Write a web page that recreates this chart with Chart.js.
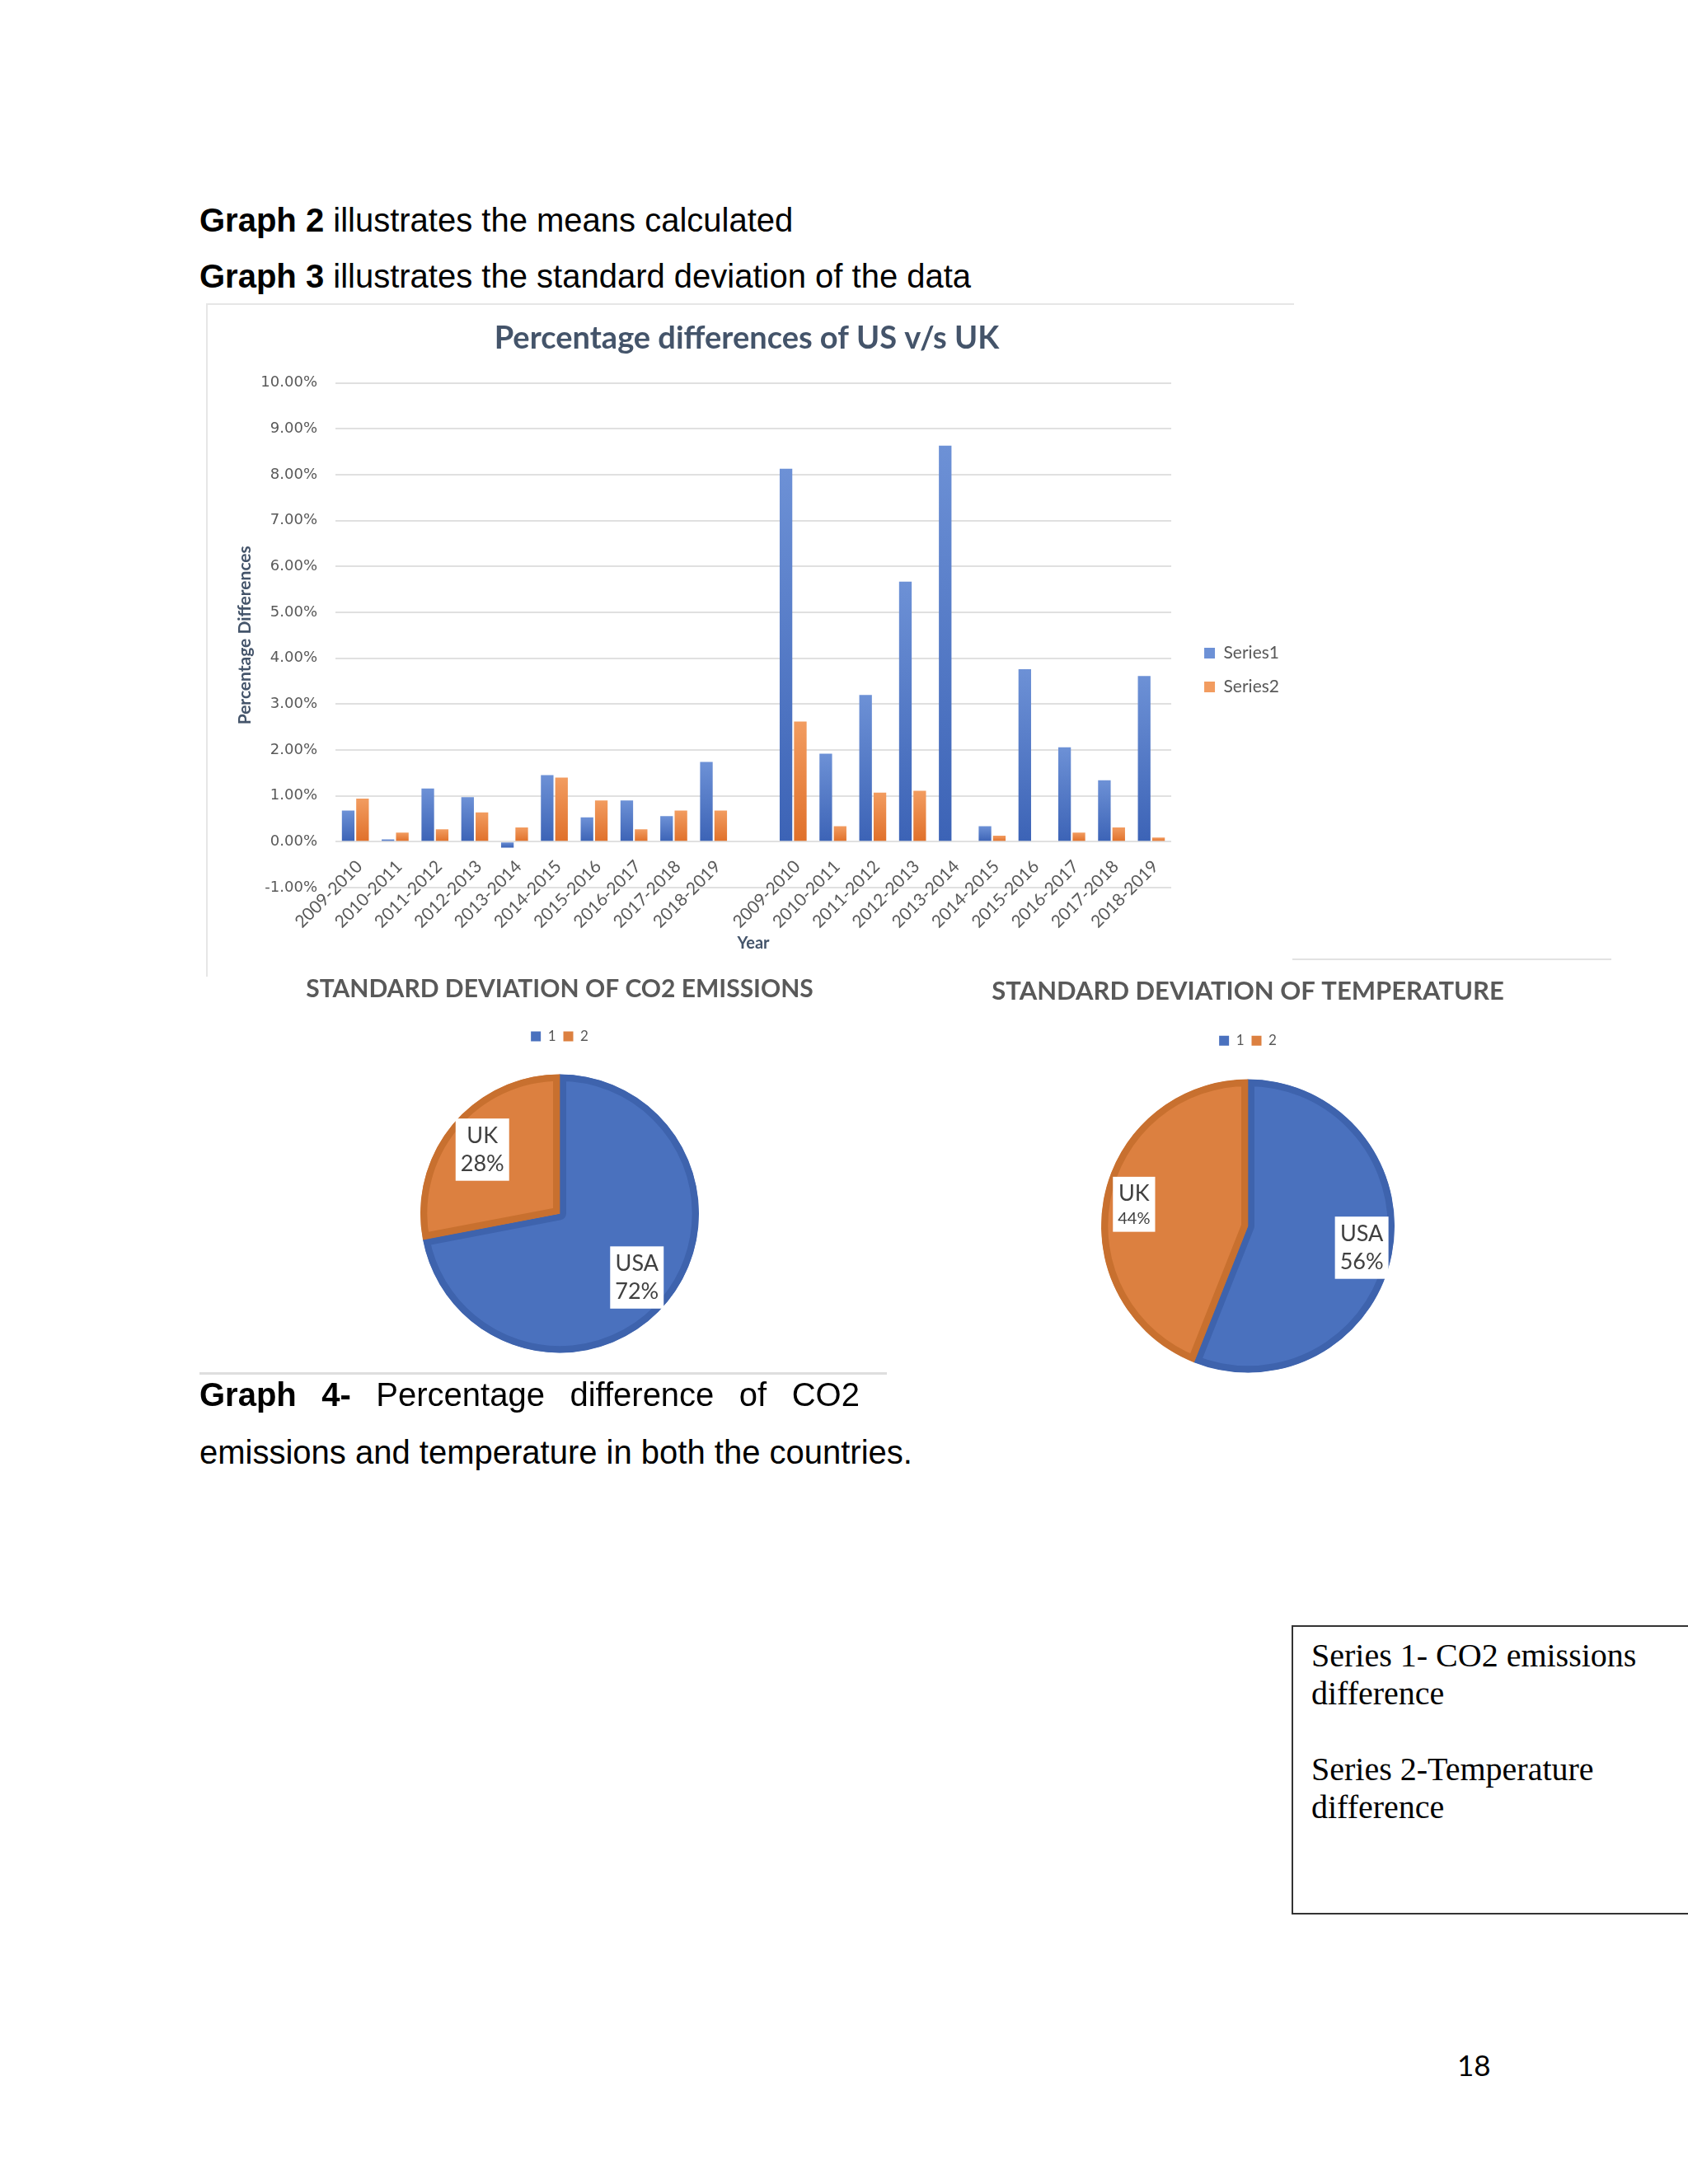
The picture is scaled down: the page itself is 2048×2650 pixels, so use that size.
<!DOCTYPE html>
<html>
<head>
<meta charset="utf-8">
<script src="https://cdn.jsdelivr.net/npm/chart.js@4.4.1/dist/chart.umd.min.js"></script>
<style>
  body { margin: 0; background: #fff; }
  #page { position: relative; width: 2048px; height: 2650px; overflow: hidden; background: #fff;
          font-family: "Liberation Sans", Arial, sans-serif; color: #000; }
  .txt { position: absolute; font-size: 40px; line-height: 48px; white-space: nowrap; }
  canvas { position: absolute; }
  .line { position: absolute; height: 0; }
  #note { position: absolute; left: 1567px; top: 1972px; width: 560px; height: 351px;
          border: 2px solid #333; font-family: "Liberation Serif", "Times New Roman", serif;
          font-size: 40px; line-height: 46px; padding: 12px 0 0 22px; box-sizing: border-box; }
  #pageNo { position: absolute; left: 1768px; top: 2484px; font-family: Lato, sans-serif; font-size: 35px; color: #000; }
</style>
</head>
<body>
<div id="page">
  <div class="txt" style="left:242px; top:243px;"><b>Graph 2</b> illustrates the means calculated</div>
  <div class="txt" style="left:242px; top:311px;"><b>Graph 3</b> illustrates the standard deviation of the data</div>

  <div style="position:absolute; left:250px; top:368px; width:1318px; height:815px; border-top:2px solid #e6e6e6; border-left:2px solid #e6e6e6;"></div>
  <div class="line" style="left:1568px; top:1163px; width:387px; border-top:2px solid #e2e2e2;"></div>
  <div class="line" style="left:242px; top:1665px; width:834px; border-top:3px solid #dedede;"></div>

  <canvas id="barChart" width="1312" height="890" style="left:250px; top:368px;"></canvas>
  <canvas id="pieCo2" width="700" height="509" style="left:329px; top:1160px;"></canvas>
  <canvas id="pieTemp" width="700" height="532" style="left:1164px; top:1162px;"></canvas>

  <div class="txt" style="left:242px; top:1668px; width:801px; display:flex; justify-content:space-between;">
    <span><b>Graph</b></span><span><b>4-</b></span><span>Percentage</span><span>difference</span><span>of</span><span>CO2</span>
  </div>
  <div class="txt" style="left:242px; top:1738px;">emissions and temperature in both the countries.</div>

  <div id="note">Series 1- CO2 emissions<br>difference<br><br>Series 2-Temperature<br>difference</div>
  <div id="pageNo">18</div>
</div>

<script>
// bar chart data (percent)
var yearLabels = ['2009-2010', '2010-2011', '2011-2012', '2012-2013', '2013-2014',
                  '2014-2015', '2015-2016', '2016-2017', '2017-2018', '2018-2019'];
var categories = yearLabels.concat([''], yearLabels);
var series1 = [0.68, 0.05, 1.16, 0.97, -0.13, 1.45, 0.53, 0.90, 0.56, 1.74, null,
               8.13, 1.92, 3.20, 5.67, 8.63, 0.34, 3.76, 2.06, 1.34, 3.61];
var series2 = [0.94, 0.20, 0.27, 0.64, 0.31, 1.40, 0.90, 0.27, 0.68, 0.68, null,
               2.62, 0.34, 1.07, 1.11, 0, 0.13, 0, 0.20, 0.31, 0.09];

// pie data
var pieLegend = ['1', '2'];
var countryNames = ['USA', 'UK'];
var co2Share = [72, 28];
var tempShare = [56, 44];

var gray = '#595959';
var slate = '#44546A';

function barFill(light, dark, flat) {
    return function(c) {
        var chart = c.chart;
        var ys = chart.scales ? chart.scales.y : null;
        if (c.type !== 'data' || !chart.chartArea || !ys || c.raw == null) return flat;
        var top = ys.getPixelForValue(Math.max(c.raw, 0));
        var base = ys.getPixelForValue(Math.min(c.raw, 0));
        if (!(base - top > 1)) return dark;
        var g = chart.ctx.createLinearGradient(0, top, 0, base);
        g.addColorStop(0, light);
        g.addColorStop(1, dark);
        return g;
    };
}

// x labels sit across the 0 line like in Excel, so don't clip them to the axis box
var noTickClip = {
    id: 'noTickClip',
    afterLayout: function(chart) {
        chart.scales.x._computeLabelArea = function() { return null; };
    }
};

new Chart(document.getElementById('barChart'), {
    type: 'bar',
    data: {
        labels: categories,
        datasets: [{
            label: 'Series1',
            data: series1,
            yAxisID: 'y',
            backgroundColor: barFill('#6d91d6', '#3c63b6', '#4472C4'),
            categoryPercentage: 0.72,
            barPercentage: 0.88
        }, {
            label: 'Series2',
            data: series2,
            yAxisID: 'y',
            backgroundColor: barFill('#f29c60', '#e0702a', '#ED7D31'),
            categoryPercentage: 0.72,
            barPercentage: 0.88
        }]
    },
    options: {
        responsive: false,
        devicePixelRatio: 1,
        animation: false,
        events: [],
        layout: { padding: 0 },
        plugins: {
            tooltip: { enabled: false },
            title: {
                display: true,
                text: 'Percentage differences of US v/s UK',
                color: slate,
                font: { family: 'Lato', size: 38, weight: 'bold', lineHeight: 1.2 },
                padding: { top: 20, bottom: 31 }
            },
            legend: {
                position: 'right',
                labels: {
                    boxWidth: 13,
                    boxHeight: 13,
                    padding: 20,
                    color: gray,
                    font: { family: 'Lato', size: 21 }
                }
            }
        },
        scales: {
            x: {
                grid: { display: false, drawTicks: false },
                border: { display: false },
                ticks: {
                    autoSkip: false,
                    minRotation: 45,
                    maxRotation: 45,
                    padding: -38,
                    labelOffset: 5,
                    color: gray,
                    font: { family: 'Lato', size: 21 }
                },
                title: {
                    display: true,
                    text: 'Year',
                    color: slate,
                    font: { family: 'Lato', size: 20, weight: 'bold' },
                    padding: { top: 0, bottom: 101 }
                },
                afterFit: function(s) { s.height = 181; }
            },
            y: {
                min: -1,
                max: 10,
                grid: { color: '#e0e0e0', lineWidth: 2, drawTicks: false },
                border: { display: false },
                ticks: {
                    stepSize: 1,
                    padding: 22,
                    color: gray,
                    font: { family: 'DejaVu Sans', size: 18 },
                    callback: function(v) { return v.toFixed(2) + '%'; }
                },
                title: {
                    display: true,
                    text: 'Percentage Differences',
                    color: slate,
                    font: { family: 'Lato', size: 21, weight: 'bold' },
                    padding: { top: 35, bottom: 0 }
                },
                afterFit: function(s) { s.width = 157; }
            },
            yPad: {
                type: 'linear',
                position: 'right',
                grid: { display: false, drawTicks: false },
                border: { display: false },
                ticks: { display: false },
                afterFit: function(s) { s.width = 20; }
            }
        }
    },
    plugins: [noTickClip]
});

function sliceLabels(names, dist, sizes) {
    return {
        id: 'sliceLabels',
        afterDatasetsDraw: function(chart) {
            var ctx = chart.ctx;
            var values = chart.data.datasets[0].data;
            var total = values.reduce(function(a, b) { return a + b; }, 0);
            chart.getDatasetMeta(0).data.forEach(function(arc, i) {
                var mid = (arc.startAngle + arc.endAngle) / 2;
                var r = arc.outerRadius * dist;
                var cx = arc.x + Math.cos(mid) * r;
                var cy = arc.y + Math.sin(mid) * r;
                var lines = [names[i], Math.round(values[i] / total * 100) + '%'];
                var fs = sizes[i];
                var w = 0;
                lines.forEach(function(t, k) {
                    ctx.font = fs[k] + 'px Lato';
                    w = Math.max(w, ctx.measureText(t).width);
                });
                var lh = [fs[0] * 1.25, fs[1] * 1.25];
                var bw = w + 12, bh = lh[0] + lh[1] + 8;
                ctx.save();
                ctx.fillStyle = '#ffffff';
                ctx.fillRect(cx - bw / 2, cy - bh / 2, bw, bh);
                ctx.fillStyle = '#404040';
                ctx.textAlign = 'center';
                ctx.textBaseline = 'middle';
                var y = cy - bh / 2 + 4;
                lines.forEach(function(t, k) {
                    ctx.font = fs[k] + 'px Lato';
                    ctx.fillText(t, cx, y + lh[k] / 2);
                    y += lh[k];
                });
                ctx.restore();
            });
        }
    };
}

function pieLegendItems(chart) {
    return Chart.overrides.pie.plugins.legend.labels.generateLabels(chart).map(function(item) {
        item.lineWidth = 0;
        item.strokeStyle = 'rgba(0,0,0,0)';
        return item;
    });
}

function makePie(id, title, titleSize, values, radius, padTop, padBottom, labelPlugin) {
    return new Chart(document.getElementById(id), {
        type: 'pie',
        data: {
            labels: pieLegend,
            datasets: [{
                data: values,
                backgroundColor: ['#4a71be', '#dc8040'],
                borderColor: ['#3e63ad', '#c8702f'],
                borderWidth: 8,
                borderAlign: 'inner',
                radius: radius
            }]
        },
        options: {
            responsive: false,
            devicePixelRatio: 1,
            animation: false,
            events: [],
            layout: { padding: 0 },
            plugins: {
                tooltip: { enabled: false },
                title: {
                    display: true,
                    text: title,
                    color: gray,
                    font: { family: 'Lato', size: titleSize, weight: 'bold', lineHeight: 1.2 },
                    padding: { top: padTop, bottom: padBottom }
                },
                legend: {
                    position: 'top',
                    labels: {
                        boxWidth: 12,
                        boxHeight: 12,
                        padding: 9,
                        color: gray,
                        font: { family: 'Lato', size: 17 },
                        generateLabels: pieLegendItems
                    }
                }
            }
        },
        plugins: [labelPlugin]
    });
}

makePie('pieCo2', 'STANDARD DEVIATION OF CO2 EMISSIONS', 30, co2Share, 169, 22, 22,
        sliceLabels(countryNames, 0.72, [[27, 27], [27, 27]]));
makePie('pieTemp', 'STANDARD DEVIATION OF TEMPERATURE', 31, tempShare, 178, 22, 24,
        sliceLabels(countryNames, 0.79, [[27, 27], [27, 20]]));
</script>
</body>
</html>
